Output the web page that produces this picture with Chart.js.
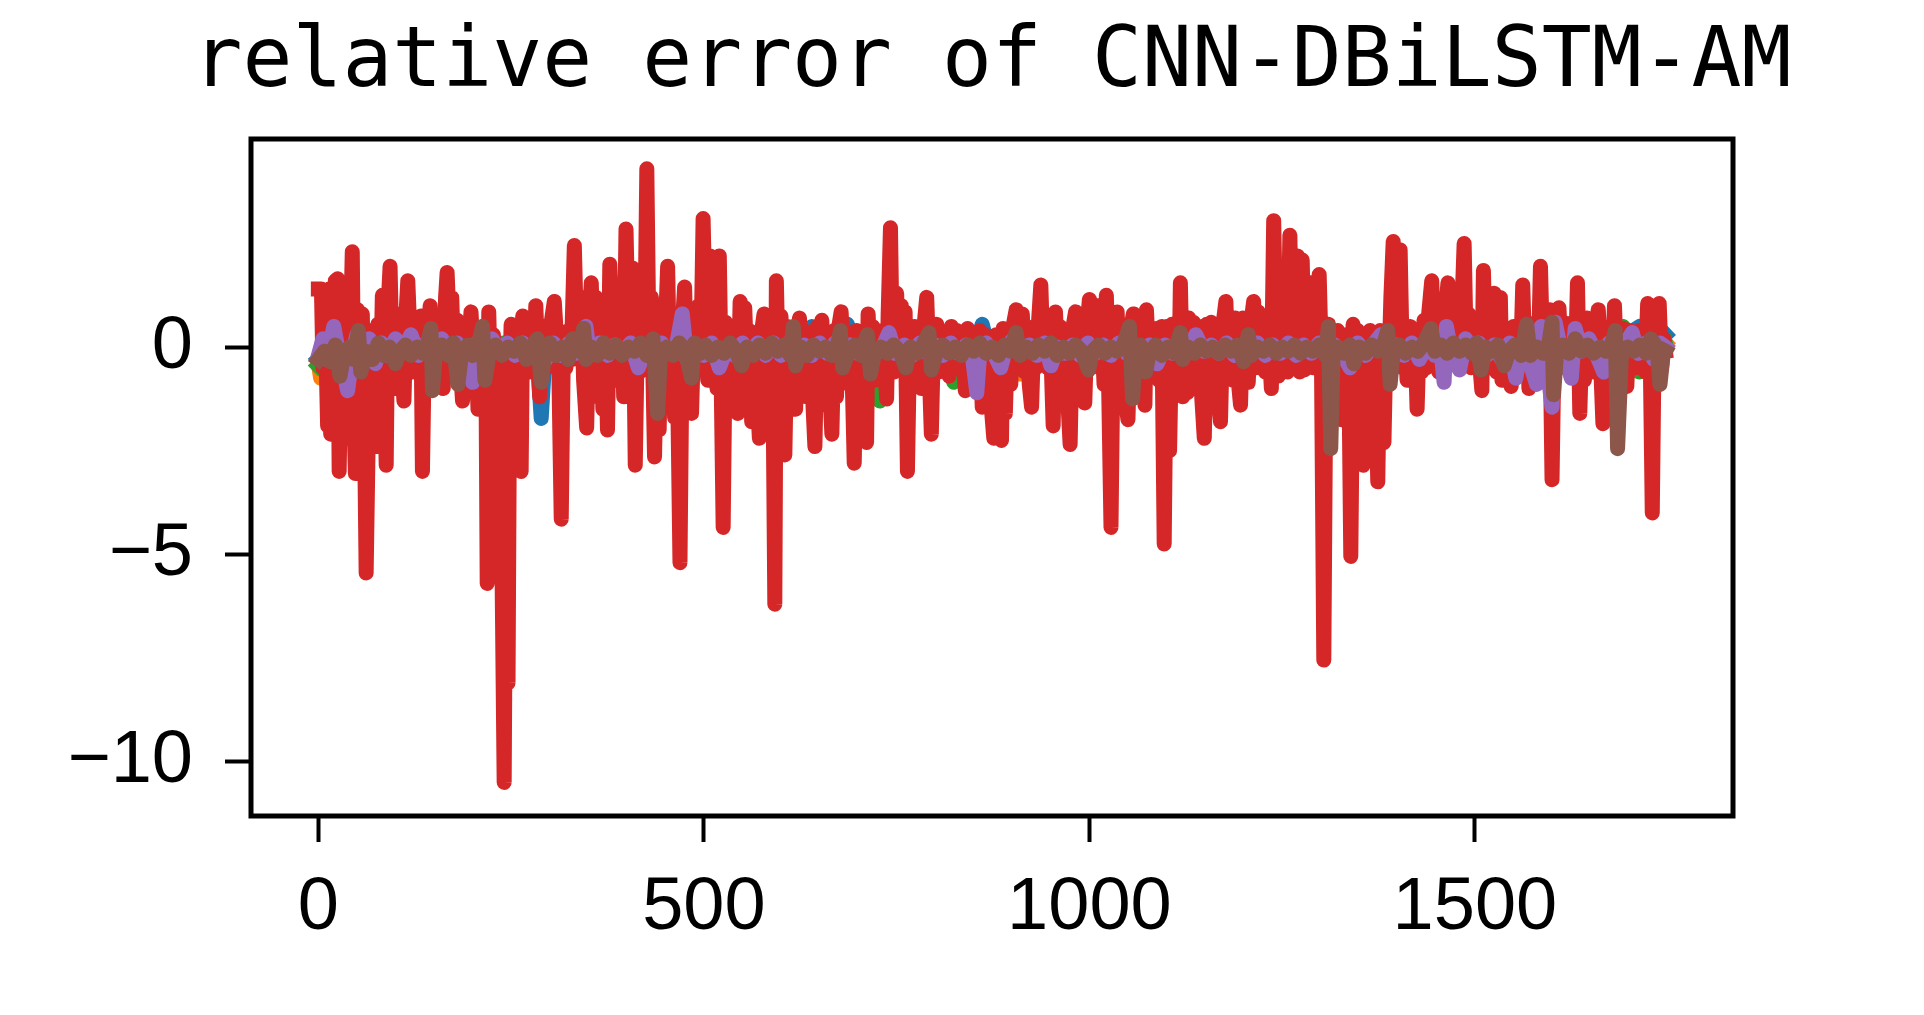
<!DOCTYPE html>
<html>
<head>
<meta charset="utf-8">
<script src="https://cdn.jsdelivr.net/npm/chart.js@4.4.0/dist/chart.umd.min.js"></script>
<style>
  html, body { margin: 0; padding: 0; background: #fff; overflow: hidden; }
</style>
</head>
<body>
<canvas id="myChart" width="1924" height="1015"></canvas>
<script>
var titleText = "relative error of CNN-DBiLSTM-AM";
var xTicks = [0, 500, 1000, 1500];
var yTicks = [-10, -5, 0];
var lineColors = ["#1f77b4", "#ff7f0e", "#2ca02c", "#d62728", "#9467bd", "#8c564b"];

// [index, relative error]
var blue = [[0,-0.3],[25,0.1],[50,-0.2],[80,0.2],[110,-0.1],[140,0.1],[170,-0.2],[200,0.1],[230,-0.1],[260,0.15],[284,-0.2],[289,-1.72],[294,-0.2],[320,0.1],[350,-0.2],[380,0.1],[410,-0.15],[440,0.1],[470,-0.1],[500,0.1],[530,-0.2],[560,0.1],[590,-0.1],[620,0.1],[640,0.5],[660,-0.1],[686,0.55],[700,-0.1],[722,-0.2],[727,-1.2],[732,-0.1],[760,0.1],[790,-0.2],[820,0.1],[850,-0.1],[861,0.55],[870,-0.1],[900,0.1],[930,-0.2],[960,0.1],[990,-0.1],[1020,0.1],[1050,-0.2],[1080,0.1],[1110,-0.1],[1140,0.1],[1170,-0.2],[1200,0.1],[1230,-0.1],[1260,0.1],[1290,-0.2],[1320,0.15],[1350,-0.1],[1380,0.1],[1410,-0.2],[1440,0.1],[1470,-0.1],[1500,0.1],[1530,-0.2],[1560,0.1],[1590,-0.1],[1620,0.1],[1650,-0.2],[1680,0.1],[1714,0.5],[1730,0.0],[1747,0.3]];

var orange = [[0,-0.4],[3,-0.75],[10,-0.2],[40,0.1],[70,-0.2],[100,0.1],[130,-0.15],[160,0.05],[190,-0.2],[220,0.1],[250,-0.2],[280,0.05],[310,-0.15],[340,0.1],[370,-0.2],[400,0.05],[430,-0.1],[460,0.1],[490,-0.2],[520,0.05],[550,-0.15],[580,0.1],[610,-0.2],[640,0.05],[670,-0.15],[700,-0.6],[720,0.05],[750,-0.15],[780,0.05],[787,-0.85],[795,-0.1],[830,0.1],[860,-0.15],[890,0.05],[910,-0.65],[920,-0.1],[950,0.05],[980,-0.2],[1010,0.05],[1040,-0.15],[1070,0.1],[1100,-0.2],[1130,0.05],[1160,-0.15],[1190,0.05],[1220,-0.2],[1250,0.05],[1280,-0.15],[1310,0.05],[1340,-0.2],[1370,0.05],[1400,-0.15],[1430,0.05],[1460,-0.2],[1495,-0.45],[1520,0.05],[1550,-0.15],[1580,0.05],[1610,-0.2],[1640,0.05],[1670,-0.15],[1700,0.05],[1730,-0.2],[1747,0.1]];

var green = [[0,-0.45],[20,-0.1],[50,0.1],[80,-0.2],[110,0.05],[140,-0.15],[165,-0.5],[180,0.05],[210,-0.2],[240,0.1],[270,-0.15],[300,0.05],[330,-0.2],[360,0.05],[390,-0.15],[420,0.05],[450,-0.2],[480,0.05],[510,-0.15],[540,0.05],[570,-0.2],[600,0.05],[630,-0.15],[660,0.05],[690,-0.2],[720,-0.3],[728,-1.3],[734,-0.2],[760,0.05],[790,-0.2],[818,-0.3],[824,-0.85],[830,-0.2],[860,0.05],[890,-0.15],[920,0.05],[950,-0.2],[962,-0.65],[975,-0.1],[1000,0.05],[1030,-0.15],[1060,0.05],[1090,-0.2],[1120,0.05],[1150,-0.15],[1180,0.05],[1210,-0.2],[1240,0.05],[1270,-0.15],[1300,0.05],[1330,-0.2],[1360,0.05],[1390,-0.15],[1420,0.05],[1450,-0.2],[1480,0.05],[1510,-0.15],[1540,0.05],[1570,-0.2],[1600,0.05],[1630,-0.15],[1660,0.05],[1692,0.5],[1700,-0.1],[1713,-0.6],[1725,0.0],[1747,0.1]];

var red = [[0,1.4],[4,1.4],[6,-0.5],[9,0.6],[12,-1.9],[14,1.4],[16,-2.1],[19,0.8],[22,1.6],[25,1.65],[27,-3.0],[30,0.5],[33,-2.0],[36,1.0],[39,-2.2],[42,0.6],[44,2.3],[46,-1.5],[48,-3.05],[51,0.9],[54,-2.0],[57,0.8],[60,-2.2],[62,-5.45],[65,-1.8],[68,0.4],[71,-2.3],[73,0.3],[75,-2.4],[77,0.55],[80,-1.6],[83,1.25],[86,-0.9],[88,-2.85],[90,0.8],[93,1.95],[96,-0.6],[100,-1.0],[103,0.8],[106,0.4],[109,-0.7],[111,-1.3],[114,0.9],[116,1.6],[119,0.2],[122,-0.6],[125,0.5],[128,-0.4],[131,0.3],[133,0.75],[135,-3.0],[138,0.6],[141,-0.3],[145,1.0],[148,-0.4],[152,0.6],[155,-0.5],[158,0.3],[162,-1.0],[165,1.2],[167,1.8],[170,0.4],[173,1.2],[176,-0.6],[180,0.65],[184,-0.4],[187,-1.3],[190,0.3],[194,-0.2],[198,0.85],[201,-0.3],[204,0.4],[207,-1.5],[210,0.3],[214,-0.5],[217,0.5],[219,-5.7],[221,0.85],[224,-1.5],[227,0.3],[230,-2.0],[233,-0.5],[236,-3.5],[238,-5.0],[241,-10.5],[243,-4.0],[246,-8.1],[248,-1.0],[250,0.55],[253,-0.4],[256,0.3],[259,-0.8],[263,-3.0],[265,0.75],[268,-0.3],[271,0.4],[274,-0.6],[277,0.3],[280,-0.2],[282,1.0],[285,-0.4],[287,-1.2],[290,0.3],[293,0.5],[296,-0.5],[299,0.2],[302,0.6],[306,1.1],[309,0.2],[312,-0.7],[315,-4.15],[318,0.3],[321,-0.5],[324,0.4],[328,-0.3],[332,2.45],[335,0.2],[338,-0.3],[341,1.2],[344,-0.8],[348,-1.95],[351,0.6],[354,1.55],[357,-0.8],[360,1.2],[363,-1.2],[366,0.5],[369,-1.5],[372,0.4],[375,-2.0],[378,2.0],[381,0.5],[384,-0.8],[387,1.3],[390,-0.5],[393,0.9],[396,-1.2],[399,2.85],[402,0.3],[405,-1.0],[408,1.9],[411,-2.85],[414,0.6],[417,-0.6],[420,1.0],[423,-0.4],[426,4.3],[429,-0.3],[432,1.2],[436,-2.65],[439,0.3],[442,-2.0],[445,0.8],[448,-0.4],[451,0.9],[453,1.95],[456,-1.0],[459,0.5],[462,-1.7],[465,0.3],[469,-5.2],[472,0.5],[475,1.45],[478,-0.8],[481,0.8],[484,-1.6],[487,0.4],[490,-0.5],[493,1.0],[496,-0.3],[499,3.1],[502,0.5],[505,-0.8],[508,2.2],[511,-0.5],[514,0.6],[517,-1.0],[520,2.2],[522,-0.2],[525,-4.35],[528,0.6],[531,-0.5],[534,0.3],[537,-0.7],[540,0.5],[544,-1.6],[547,1.1],[550,-0.3],[553,0.95],[556,-0.6],[559,0.4],[562,-1.8],[565,0.3],[568,-0.8],[572,-2.2],[575,0.4],[578,0.8],[581,-1.2],[584,0.4],[587,-0.3],[589,0.6],[592,-6.2],[594,1.6],[597,-1.0],[600,0.75],[602,-0.4],[605,-2.6],[608,0.5],[611,-0.9],[614,0.4],[617,-0.5],[619,-1.5],[621,0.3],[624,0.7],[627,-0.8],[630,0.4],[633,-1.2],[636,0.3],[640,-0.8],[644,-2.4],[647,0.5],[650,-0.6],[653,0.65],[656,-1.4],[659,0.3],[662,-0.5],[666,-2.1],[669,0.4],[672,-1.2],[675,0.5],[678,0.85],[681,-0.3],[684,0.4],[688,-0.9],[691,0.3],[695,-2.8],[698,0.4],[701,-1.5],[704,0.3],[707,-0.6],[711,-2.3],[713,0.8],[716,-0.4],[719,0.5],[722,-0.8],[725,0.3],[728,-0.5],[731,0.4],[734,-0.3],[737,-1.25],[739,0.8],[742,2.88],[744,0.4],[747,-0.6],[750,1.3],[753,-0.4],[756,1.0],[759,-0.3],[761,0.85],[764,-3.0],[767,0.3],[770,-0.8],[773,0.5],[776,-0.6],[779,0.4],[782,-1.0],[786,0.6],[789,1.2],[792,-0.4],[795,-2.1],[798,0.3],[802,0.55],[805,-0.6],[808,0.3],[811,-0.4],[815,0.2],[818,-0.7],[821,0.5],[824,-0.3],[828,0.4],[831,-0.5],[835,0.3],[839,-1.05],[842,0.45],[846,-0.3],[850,0.3],[854,-0.6],[858,0.4],[861,-1.45],[864,0.3],[867,-0.8],[870,0.2],[873,-1.5],[876,-2.2],[879,0.3],[882,-1.0],[886,-2.25],[888,0.45],[891,-1.6],[894,0.3],[898,-0.9],[901,0.5],[905,0.9],[908,-0.5],[911,0.3],[913,0.8],[916,-0.6],[919,0.5],[922,-0.9],[925,-1.45],[928,0.3],[931,-0.5],[934,0.6],[937,1.5],[940,-0.3],[943,0.6],[946,-0.5],[949,0.5],[953,-1.9],[956,0.85],[959,-0.4],[962,0.5],[965,-0.7],[968,0.4],[971,-0.9],[975,-2.35],[978,0.4],[982,0.85],[985,-0.5],[988,0.6],[991,-0.6],[994,-1.35],[997,0.5],[1000,1.15],[1003,-0.4],[1006,0.6],[1010,1.0],[1013,-0.5],[1016,0.4],[1019,-0.9],[1022,1.25],[1025,-1.0],[1028,-4.35],[1031,0.4],[1034,-0.6],[1036,0.85],[1039,-0.8],[1042,0.4],[1045,-1.0],[1050,-1.75],[1053,0.4],[1057,0.8],[1060,-0.5],[1063,0.5],[1066,-0.8],[1069,0.3],[1072,-1.4],[1074,0.9],[1077,-0.3],[1080,0.4],[1083,-0.6],[1087,0.45],[1090,-0.8],[1094,0.5],[1097,-4.75],[1100,0.5],[1104,-2.5],[1107,0.55],[1110,-0.8],[1113,0.4],[1116,-1.0],[1118,1.55],[1121,-1.2],[1124,0.3],[1127,-1.1],[1129,0.7],[1132,-0.4],[1135,0.6],[1139,-0.8],[1142,0.5],[1145,-1.0],[1149,-2.2],[1152,0.55],[1155,-0.5],[1158,0.6],[1161,-0.9],[1164,0.4],[1167,-1.2],[1170,-1.8],[1173,0.5],[1177,1.1],[1180,-0.6],[1183,0.5],[1186,-0.8],[1189,0.7],[1192,-0.6],[1196,-1.4],[1199,0.7],[1202,-0.4],[1206,-0.85],[1209,0.5],[1213,1.1],[1216,-0.5],[1219,0.85],[1222,-0.4],[1225,0.6],[1228,-0.6],[1231,0.4],[1234,-0.3],[1236,-1.0],[1239,3.05],[1242,0.3],[1245,-0.7],[1248,0.8],[1251,-0.5],[1254,1.2],[1257,-0.6],[1260,2.7],[1263,-0.5],[1266,0.8],[1270,2.2],[1273,-0.6],[1276,2.1],[1279,-0.55],[1282,0.7],[1285,-0.3],[1287,1.55],[1290,-0.5],[1293,0.6],[1296,-0.4],[1298,1.75],[1301,-0.4],[1304,-7.55],[1307,0.3],[1310,0.55],[1313,-0.7],[1316,0.3],[1319,-0.9],[1322,0.4],[1325,-0.6],[1327,-1.75],[1330,0.3],[1333,-1.4],[1336,0.3],[1339,-5.05],[1342,0.55],[1345,-1.5],[1348,0.4],[1351,-2.0],[1355,-2.85],[1358,0.3],[1361,-1.2],[1364,0.4],[1367,-1.8],[1370,0.2],[1374,-3.25],[1377,0.4],[1380,-1.5],[1382,-2.3],[1385,0.4],[1388,-0.8],[1391,1.2],[1394,2.55],[1397,-0.3],[1400,1.0],[1403,2.35],[1406,-0.5],[1409,0.5],[1412,-0.8],[1416,0.5],[1419,-0.6],[1422,0.3],[1425,-1.5],[1428,0.4],[1431,-0.6],[1434,0.65],[1437,-0.5],[1440,0.8],[1444,1.6],[1447,-0.4],[1450,0.5],[1453,-0.6],[1456,0.8],[1459,-0.5],[1462,0.9],[1465,1.55],[1468,-0.4],[1471,0.6],[1474,-0.3],[1477,0.8],[1480,-0.5],[1483,0.9],[1486,2.5],[1489,-0.3],[1492,0.8],[1495,-0.5],[1498,0.6],[1501,-0.4],[1504,0.7],[1507,-0.6],[1509,-1.05],[1511,1.85],[1514,-0.4],[1517,0.6],[1520,-0.5],[1523,0.5],[1525,1.3],[1528,-0.6],[1531,0.5],[1533,1.2],[1535,-0.8],[1538,0.3],[1541,-0.5],[1544,0.4],[1547,-0.95],[1550,0.5],[1553,-0.6],[1556,0.4],[1559,-0.5],[1562,1.5],[1565,-0.4],[1568,0.5],[1570,-1.0],[1573,0.4],[1576,-0.5],[1579,0.6],[1582,-0.4],[1585,1.95],[1588,-0.3],[1591,0.8],[1594,-0.6],[1597,0.9],[1600,-3.2],[1603,0.5],[1606,-0.4],[1609,0.95],[1612,-0.3],[1615,0.6],[1618,-0.5],[1621,0.4],[1624,-0.5],[1627,0.6],[1630,-0.6],[1633,1.55],[1636,-1.6],[1639,0.3],[1642,-0.8],[1645,0.7],[1648,-0.4],[1651,0.5],[1654,-0.6],[1657,0.6],[1660,0.9],[1663,-0.4],[1666,-1.85],[1669,0.4],[1672,-0.5],[1675,0.5],[1678,-0.3],[1681,1.0],[1684,-0.5],[1687,0.4],[1690,-0.3],[1693,0.45],[1697,-0.95],[1700,0.4],[1703,-0.3],[1706,0.3],[1709,-0.5],[1712,0.4],[1715,-0.4],[1718,0.3],[1721,-0.6],[1724,1.05],[1727,0.3],[1730,-4.0],[1733,1.0],[1736,-0.3],[1739,1.05],[1742,-0.5],[1745,0.2],[1747,-0.1]];

var purple = [[0,-0.2],[6,0.2],[12,-0.3],[20,0.5],[26,-0.1],[32,-0.5],[38,-1.05],[44,-0.2],[50,0.3],[58,-0.3],[66,0.2],[74,-0.4],[82,0.1],[90,-0.2],[100,0.2],[110,-0.1],[120,0.3],[130,-0.2],[140,0.1],[150,-0.3],[160,0.2],[170,-0.1],[180,0.1],[190,-0.2],[200,-0.85],[206,0.1],[215,-0.2],[225,0.2],[235,-0.1],[245,0.1],[255,-0.2],[265,0.1],[275,-0.2],[285,0.1],[295,-0.3],[305,0.1],[315,-0.2],[325,0.1],[335,-0.15],[347,0.5],[352,-0.2],[365,0.1],[375,-0.2],[385,0.05],[395,-0.15],[405,0.1],[415,-0.5],[425,0.0],[435,-0.2],[445,0.1],[455,-0.15],[465,0.1],[472,0.8],[478,-0.3],[490,0.05],[500,-0.2],[510,0.1],[520,-0.5],[530,0.0],[540,-0.2],[550,0.1],[560,-0.15],[570,0.1],[580,-0.2],[590,0.1],[600,-0.2],[610,0.1],[620,-0.15],[630,0.05],[640,-0.2],[650,0.1],[660,-0.15],[670,0.1],[680,-0.2],[690,0.05],[700,-0.15],[710,0.1],[720,-0.2],[732,0.0],[740,0.35],[748,-0.15],[760,0.05],[770,-0.2],[780,0.1],[790,-0.15],[800,0.05],[810,-0.2],[820,0.1],[830,-0.15],[840,0.05],[848,-0.2],[854,-1.1],[858,-0.1],[866,0.1],[876,-0.15],[885,-0.5],[892,0.0],[902,0.2],[912,-0.1],[922,0.05],[932,-0.2],[942,0.1],[950,-0.45],[958,0.0],[968,-0.15],[978,0.05],[988,-0.2],[998,0.1],[1008,-0.15],[1018,0.05],[1028,-0.2],[1038,0.1],[1048,-0.15],[1058,0.05],[1068,-0.2],[1078,0.05],[1088,-0.4],[1098,0.05],[1108,-0.15],[1118,0.1],[1128,-0.15],[1138,0.3],[1148,-0.1],[1158,0.05],[1168,-0.15],[1178,0.1],[1188,-0.2],[1198,0.05],[1208,-0.15],[1218,0.1],[1228,-0.2],[1238,0.05],[1248,-0.15],[1258,0.1],[1268,-0.2],[1278,0.05],[1288,-0.15],[1298,0.1],[1308,-0.2],[1318,0.05],[1328,-0.15],[1338,-0.5],[1348,0.1],[1358,-0.2],[1368,0.05],[1378,0.3],[1388,-0.15],[1398,0.05],[1408,-0.2],[1418,0.1],[1428,-0.3],[1438,0.05],[1448,-0.2],[1455,0.1],[1460,-0.85],[1463,0.5],[1470,-0.2],[1480,-0.55],[1488,0.2],[1496,-0.1],[1505,0.1],[1515,-0.2],[1525,0.05],[1535,-0.3],[1545,0.1],[1553,-0.75],[1560,0.0],[1570,-0.3],[1580,-0.9],[1586,0.5],[1592,-0.2],[1600,-1.45],[1604,0.6],[1612,-0.1],[1618,-0.3],[1625,-0.75],[1630,0.45],[1638,-0.1],[1648,0.2],[1658,-0.2],[1667,-0.6],[1674,0.1],[1684,-0.2],[1694,0.05],[1704,0.35],[1712,-0.15],[1722,0.1],[1732,-0.3],[1740,0.1],[1747,0.0]];

var brown = [[0,-0.3],[8,-0.1],[15,-0.35],[22,0.05],[28,-0.7],[33,-0.2],[40,0.0],[46,-0.3],[52,0.4],[55,-0.6],[62,-0.1],[70,-0.3],[78,0.1],[85,-0.2],[92,0.0],[100,-0.4],[106,-0.1],[113,0.05],[120,-0.2],[128,0.0],[135,-0.15],[142,0.1],[146,0.45],[148,-1.05],[152,-0.1],[160,0.05],[168,-0.2],[175,0.1],[181,-0.9],[186,-0.1],[194,0.05],[200,-0.2],[208,0.1],[213,0.5],[216,-0.8],[222,-0.1],[230,0.05],[238,-0.2],[246,0.0],[254,-0.1],[262,0.1],[270,-0.3],[278,0.05],[284,0.2],[289,-0.85],[294,-0.1],[300,0.1],[308,-0.2],[316,0.0],[324,-0.3],[330,0.2],[338,-0.1],[344,0.45],[347,-0.3],[354,0.0],[362,-0.2],[370,0.1],[378,-0.15],[386,0.05],[394,-0.2],[402,0.0],[410,-0.1],[418,0.1],[426,-0.2],[434,0.2],[440,-1.6],[444,-0.1],[452,0.0],[460,-0.2],[468,0.1],[476,-0.1],[484,-0.75],[488,0.1],[495,-0.15],[502,0.05],[510,-0.2],[518,0.0],[526,-0.15],[534,0.1],[542,-0.1],[549,-0.45],[556,0.0],[564,-0.2],[572,0.05],[580,-0.15],[588,0.1],[596,-0.1],[604,0.05],[612,-0.2],[616,0.5],[619,-0.45],[626,0.0],[634,-0.2],[642,0.05],[650,-0.1],[658,0.0],[666,-0.2],[674,0.1],[677,0.4],[680,-0.5],[688,-0.1],[696,0.05],[704,-0.2],[712,0.3],[716,-0.65],[722,-0.1],[730,0.0],[738,-0.15],[746,0.05],[754,-0.1],[762,-0.5],[768,0.0],[776,-0.15],[784,0.05],[792,0.35],[795,-0.55],[802,-0.1],[810,0.05],[818,-0.15],[826,0.0],[834,-0.2],[842,0.05],[850,-0.1],[858,0.1],[866,-0.15],[874,0.0],[882,-0.2],[890,0.05],[898,-0.1],[905,0.35],[910,-0.2],[918,0.0],[926,-0.15],[934,0.05],[942,-0.1],[950,0.1],[958,-0.2],[966,0.0],[974,-0.15],[982,0.05],[990,-0.1],[999,-0.55],[1004,-0.1],[1012,0.05],[1020,-0.15],[1028,0.0],[1036,-0.1],[1044,0.05],[1052,0.5],[1056,-1.25],[1060,-0.1],[1066,0.05],[1073,-0.6],[1078,-0.1],[1086,0.05],[1094,-0.2],[1102,0.0],[1110,-0.15],[1118,0.35],[1121,-0.3],[1128,0.0],[1136,-0.15],[1144,0.05],[1152,-0.1],[1160,0.0],[1168,-0.15],[1176,0.05],[1184,-0.1],[1192,0.05],[1200,-0.35],[1206,0.3],[1210,-0.2],[1218,0.0],[1226,-0.1],[1234,0.05],[1242,-0.15],[1250,0.0],[1258,-0.1],[1266,0.05],[1274,-0.15],[1282,0.0],[1290,-0.1],[1298,0.05],[1306,-0.2],[1310,0.5],[1313,-2.45],[1316,-0.2],[1322,0.0],[1330,-0.15],[1338,0.05],[1343,-0.4],[1350,0.0],[1358,-0.15],[1366,0.05],[1374,-0.1],[1382,0.1],[1387,0.4],[1390,-0.9],[1394,-0.1],[1402,0.05],[1410,-0.15],[1418,0.0],[1426,-0.1],[1434,0.1],[1443,0.45],[1448,-0.1],[1456,0.05],[1464,-0.15],[1472,0.1],[1480,-0.1],[1488,0.05],[1496,-0.15],[1502,0.1],[1508,-0.55],[1514,0.0],[1522,-0.1],[1530,0.05],[1538,-0.45],[1544,-0.1],[1552,0.05],[1560,-0.2],[1567,0.55],[1572,-0.2],[1580,0.0],[1588,-0.15],[1596,0.1],[1600,0.6],[1602,-1.15],[1606,-0.1],[1614,0.05],[1622,-0.15],[1630,0.2],[1638,-0.1],[1646,0.05],[1654,-0.15],[1662,0.0],[1670,-0.1],[1678,0.1],[1682,0.4],[1685,-2.45],[1690,-0.2],[1698,0.0],[1706,-0.1],[1714,0.05],[1722,-0.15],[1728,0.2],[1736,0.0],[1740,-0.9],[1744,-0.2],[1747,-0.1]];

var allSeries = [blue, orange, green, red, purple, brown];

function toPoints(arr) {
    return arr.map(function (p) { return { x: p[0], y: p[1] }; });
}

var frame = {
    id: "frame",
    afterDatasetsDraw: function (chart) {
        var a = chart.chartArea, ctx = chart.ctx;
        ctx.save();
        ctx.strokeStyle = "#000";
        ctx.lineWidth = 5;
        ctx.strokeRect(a.left, a.top, a.right - a.left, a.bottom - a.top);
        ctx.restore();
    }
};

var bigTitle = {
    id: "bigTitle",
    afterDraw: function (chart) {
        var a = chart.chartArea, ctx = chart.ctx;
        ctx.save();
        ctx.font = '83px "DejaVu Sans Mono"';
        ctx.fillStyle = "#000";
        ctx.textAlign = "center";
        ctx.textBaseline = "alphabetic";
        ctx.fillText(titleText, (a.left + a.right) / 2, 86);
        ctx.restore();
    }
};

var tickFont = { family: "Liberation Sans", size: 74 };

new Chart("myChart", {
    type: "line",
    data: {
        datasets: allSeries.map(function (s, k) {
            return {
                data: toPoints(s),
                borderColor: lineColors[k],
                borderWidth: 15,
                borderJoinStyle: "round",
                borderCapStyle: "square",
                pointRadius: 0,
                tension: 0,
                fill: false,
                order: 6 - k
            };
        })
    },
    options: {
        responsive: false,
        animation: false,
        devicePixelRatio: 1,
        layout: { padding: { left: 0, right: 191, top: 139, bottom: 0 } },
        plugins: { legend: { display: false }, tooltip: { enabled: false } },
        scales: {
            x: {
                type: "linear",
                min: -87.35,
                max: 1834.7,
                afterBuildTicks: function (axis) {
                    axis.ticks = xTicks.map(function (v) { return { value: v }; });
                },
                afterFit: function (axis) { axis.height = 199; },
                grid: { drawOnChartArea: false, drawTicks: true, tickLength: 26, tickWidth: 4, tickColor: "#000" },
                border: { display: false },
                ticks: {
                    color: "#000",
                    font: tickFont,
                    padding: 22,
                    maxRotation: 0,
                    autoSkip: false,
                    callback: function (v) { return String(v); }
                }
            },
            y: {
                type: "linear",
                min: -11.31,
                max: 5.02,
                afterBuildTicks: function (axis) {
                    axis.ticks = yTicks.map(function (v) { return { value: v }; });
                },
                afterFit: function (axis) { axis.width = 251; },
                grid: { drawOnChartArea: false, drawTicks: true, tickLength: 26, tickWidth: 4, tickColor: "#000" },
                border: { display: false },
                ticks: {
                    color: "#000",
                    font: tickFont,
                    padding: 32,
                    callback: function (v) { return String(v).replace("-", "\u2212"); }
                }
            }
        }
    },
    plugins: [frame, bigTitle]
});
</script>
</body>
</html>
